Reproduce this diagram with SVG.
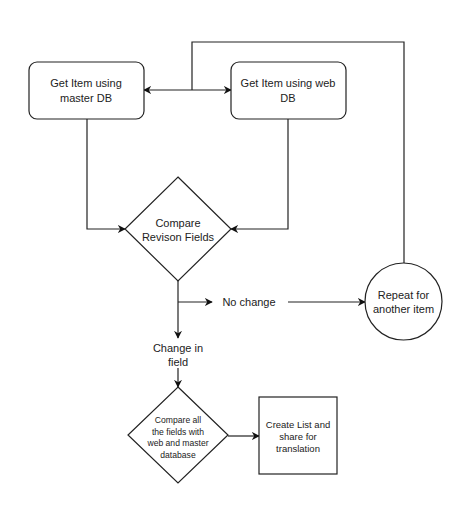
<svg xmlns="http://www.w3.org/2000/svg" width="474" height="524" viewBox="0 0 474 524">
<defs>
<marker id="arr" viewBox="0 0 10 10" refX="9" refY="5" markerWidth="8" markerHeight="8" markerUnits="userSpaceOnUse" orient="auto-start-reverse">
<path d="M0,0 L10,5 L0,10 L3,5 Z" fill="#111"/>
</marker>
<style>
.n{fill:#fff;stroke:#222;stroke-width:1.2}
.c{fill:none;stroke:#222;stroke-width:1.2}
text{font-family:"Liberation Sans",Arial,sans-serif;fill:#222;text-anchor:middle}
.t11{font-size:11px}
.t9{font-size:9.5px}
.t8{font-size:8.6px}
</style>
</defs>
<rect width="474" height="524" fill="#fff"/>
<g id="connectors">
<path class="c" d="M144,90 L231,90" marker-start="url(#arr)" marker-end="url(#arr)"/>
<path class="c" d="M192,90 L192,42 L404,42 L404,263"/>
<path class="c" d="M87,119 L87,229 L125,229" marker-end="url(#arr)"/>
<path class="c" d="M288,119 L288,229 L231,229" marker-end="url(#arr)"/>
<path class="c" d="M178,281 L178,338" marker-end="url(#arr)"/>
<path class="c" d="M178,302 L212,302" marker-end="url(#arr)"/>
<path class="c" d="M288,302 L365,302" marker-end="url(#arr)"/>
<path class="c" d="M178,368 L178,387" marker-end="url(#arr)"/>
<path class="c" d="M228,436 L259,436" marker-end="url(#arr)"/>
</g>
<g id="master">
<rect class="n" x="29" y="62" width="115" height="57" rx="8"/>
<text class="t11" x="86" y="87">Get Item using</text>
<text class="t11" x="86" y="102">master DB</text>
</g>
<g id="web">
<rect class="n" x="231" y="62" width="115" height="57" rx="8"/>
<text class="t11" x="288" y="87">Get Item using web</text>
<text class="t11" x="288" y="102">DB</text>
</g>
<g id="compareRev">
<path class="n" d="M178,177 L231,229 L178,281 L125,229 Z"/>
<text class="t11" x="178" y="227">Compare</text>
<text class="t11" x="178" y="241">Revison Fields</text>
</g>
<g id="nochange">
<text class="t11" x="249" y="306">No change</text>
</g>
<g id="repeat">
<circle class="n" cx="403.5" cy="301.5" r="38.5"/>
<text class="t11" x="403.5" y="299">Repeat for</text>
<text class="t11" x="403.5" y="313">another item</text>
</g>
<g id="changeinfield">
<text class="t11" x="178" y="352">Change in</text>
<text class="t11" x="178" y="366">field</text>
</g>
<g id="compareAll">
<path class="n" d="M178,387 L228,435 L178,483 L128,435 Z"/>
<text class="t8" x="178" y="423">Compare all</text>
<text class="t8" x="178" y="434.5">the fields with</text>
<text class="t8" x="178" y="446">web and master</text>
<text class="t8" x="178" y="457.5">database</text>
</g>
<g id="createList">
<rect class="n" x="259" y="397" width="78" height="77"/>
<text class="t9" x="298" y="428">Create List and</text>
<text class="t9" x="298" y="440">share for</text>
<text class="t9" x="298" y="452">translation</text>
</g>
</svg>
